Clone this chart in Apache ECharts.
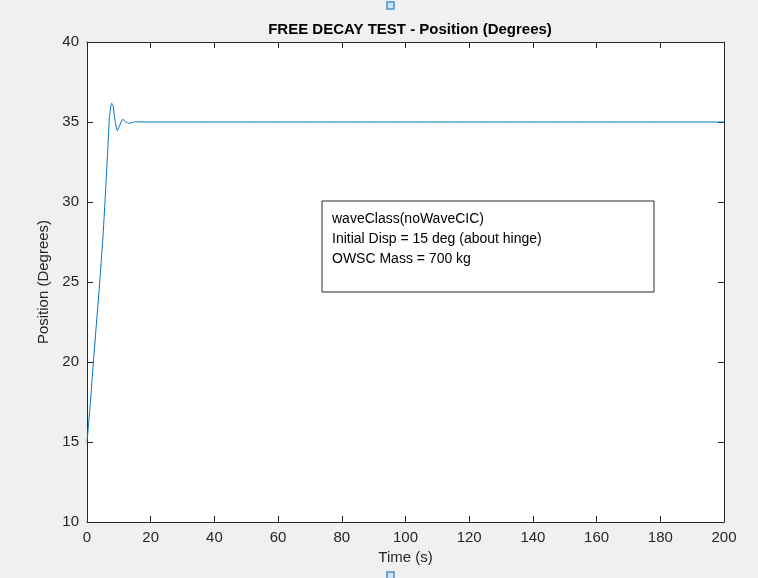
<!DOCTYPE html>
<html><head><meta charset="utf-8">
<script src="https://cdn.jsdelivr.net/npm/echarts@6/dist/echarts.min.js"></script>
<style>html,body{margin:0;background:#f0f0f0}#c{width:758px;height:578px}</style>
</head><body><div id="c"></div>
<script>
var times = [0,1,2,3,4,5,5.65,6.5,7,7.5,7.75,8.2,8.8,9.5,10.3,11.2,12.2,13.3,15.2,17,200];
var positions = [15,17.3,20,22.5,25,27.8,30,33.2,35.2,36.0,36.17,36.0,35.1,34.46,34.8,35.17,35.0,34.92,35.02,35.0,35.0];
var xTicks = [0,20,40,60,80,100,120,140,160,180,200];
var yTicks = [10,15,20,25,30,35,40];
var boxLines = ['waveClass(noWaveCIC)','Initial Disp = 15 deg (about hinge)','OWSC Mass = 700 kg'];

var F = 'Liberation Sans, Arial, sans-serif';
var ax = {type:'value',axisLine:{show:true,onZero:false,lineStyle:{color:'#262626'}},axisTick:{inside:true,length:6,lineStyle:{color:'#262626'}},splitLine:{show:false}};
function mk(extra){return Object.assign({},JSON.parse(JSON.stringify(ax)),extra);}
var chart = echarts.init(document.getElementById('c'));
chart.setOption({
  backgroundColor:'#f0f0f0',
  animation:false,
  title:{text:'FREE DECAY TEST - Position (Degrees)',left:405,top:17,textAlign:'center',textStyle:{fontFamily:F,fontSize:15,fontWeight:'bold',color:'#000'}},
  grid:{left:87,right:34,top:42,bottom:56,show:true,backgroundColor:'#fff',borderWidth:0},
  xAxis:[mk({min:0,max:200,interval:20,name:'Time (s)',nameLocation:'middle',nameGap:24,nameTextStyle:{fontFamily:F,fontSize:15,color:'#262626'},axisLabel:{fontFamily:F,fontSize:15,color:'#262626',margin:8}}),
         mk({min:0,max:200,interval:20,position:'top',axisLabel:{show:false}})],
  yAxis:[mk({min:10,max:40,interval:5,name:'Position (Degrees)',nameLocation:'middle',nameGap:28,nameTextStyle:{fontFamily:F,fontSize:15,color:'#262626'},axisLabel:{fontFamily:F,fontSize:15,color:'#262626',margin:8}}),
         mk({min:10,max:40,interval:5,position:'right',axisLabel:{show:false}})],
  series:[{type:'line',data:times.map(function(t,i){return [t,positions[i]];}),showSymbol:false,smooth:0.15,lineStyle:{color:'#0072bd',width:1}}],
  graphic:[
    {type:'rect',shape:{x:322,y:201,width:332,height:91},style:{fill:'#fff',stroke:'#262626',lineWidth:1}},
    {type:'text',left:332,top:209,style:{text:boxLines.join('\n'),font:'14px '+F,fill:'#000',lineHeight:20}},
    {type:'rect',shape:{x:387,y:2,width:7,height:7},style:{fill:'#d0e4f5',stroke:'#4a90c8',lineWidth:1.5}},
    {type:'rect',shape:{x:387,y:572,width:7,height:7},style:{fill:'#d0e4f5',stroke:'#4a90c8',lineWidth:1.5}}
  ]
});
</script></body></html>
